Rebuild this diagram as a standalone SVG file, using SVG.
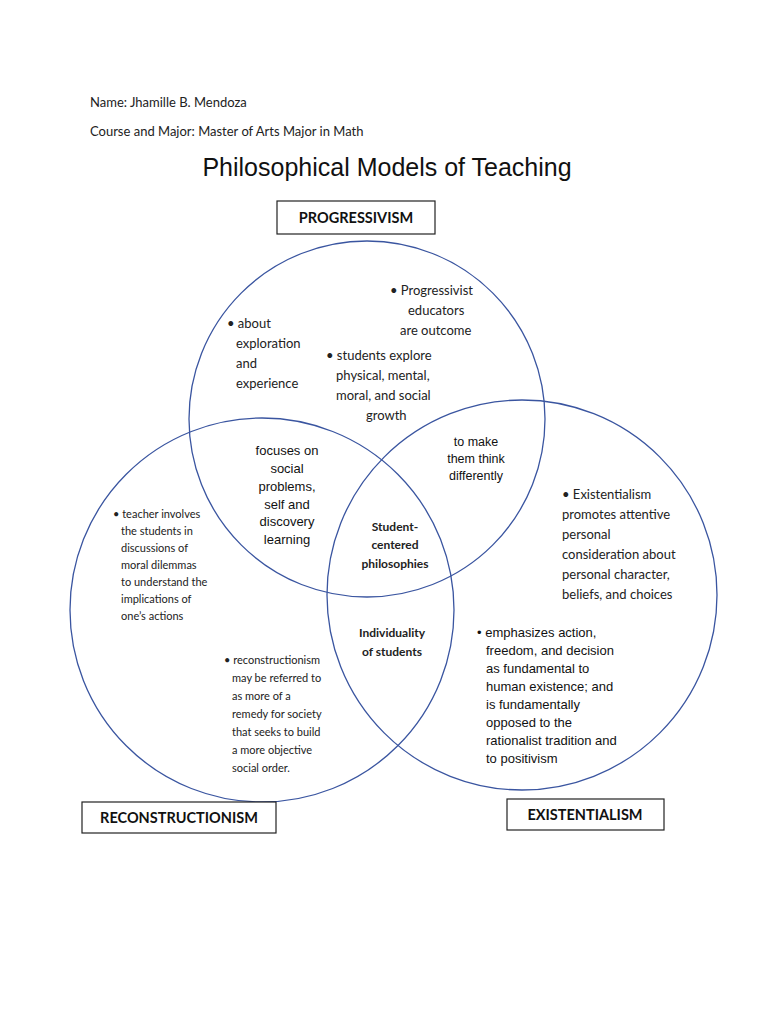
<svg xmlns="http://www.w3.org/2000/svg" width="768" height="1024" viewBox="0 0 768 1024">
<style>
.c{font-family:Lato,"Open Sans",sans-serif;fill:#222}
.a{font-family:"Liberation Sans",Arial,sans-serif;fill:#111}
.ring{fill:none;stroke:#3a55a0;stroke-width:1.3}
.box{fill:#fff;stroke:#222;stroke-width:1.2}
.lab{font-family:Lato,"Open Sans",sans-serif;font-weight:bold;font-size:14.5px;fill:#111;text-anchor:middle}
</style>
<rect width="768" height="1024" fill="#fff"/>
<text class="c" x="90" y="107" font-size="13">Name: Jhamille B. Mendoza</text>
<text class="c" x="90" y="136" font-size="13">Course and Major: Master of Arts Major in Math</text>
<text class="a" x="387" y="176" font-size="25" text-anchor="middle">Philosophical Models of Teaching</text>
<g id="circles">
<circle id="progressivism-circle" class="ring" cx="367" cy="419" r="178"/>
<circle id="reconstructionism-circle" class="ring" cx="262" cy="610" r="192"/>
<circle id="existentialism-circle" class="ring" cx="522" cy="595" r="195"/>
</g>
<g id="progressivism"><rect class="box" x="277" y="201" width="158" height="33"/><text class="lab" x="356" y="223">PROGRESSIVISM</text></g>
<g id="reconstructionism"><rect class="box" x="82" y="802" width="194" height="31"/><text class="lab" x="179" y="823">RECONSTRUCTIONISM</text></g>
<g id="existentialism"><rect class="box" x="507" y="799" width="157" height="31"/><text class="lab" x="585" y="820">EXISTENTIALISM</text></g>
<g id="texts">
<text class="c" font-size="13"><tspan x="390" y="295">• Progressivist</tspan><tspan x="408" y="315">educators</tspan><tspan x="400" y="335">are outcome</tspan></text>
<text class="c" font-size="13"><tspan x="227" y="328">• about</tspan><tspan x="236" y="348">exploration</tspan><tspan x="236" y="368">and</tspan><tspan x="236" y="388">experience</tspan></text>
<text class="c" font-size="13"><tspan x="326" y="360">• students explore</tspan><tspan x="336" y="380">physical, mental,</tspan><tspan x="336" y="400">moral, and social</tspan><tspan x="366" y="420">growth</tspan></text>
<text class="a" font-size="12.5" text-anchor="middle"><tspan x="476" y="446">to make</tspan><tspan x="476" y="463">them think</tspan><tspan x="476" y="480">differently</tspan></text>
<text class="a" font-size="13" text-anchor="middle"><tspan x="287" y="455">focuses on</tspan><tspan x="287" y="473">social</tspan><tspan x="287" y="491">problems,</tspan><tspan x="287" y="509">self and</tspan><tspan x="287" y="526">discovery</tspan><tspan x="287" y="544">learning</tspan></text>
<text class="c" font-size="12" font-weight="bold" text-anchor="middle"><tspan x="395" y="531">Student-</tspan><tspan x="395" y="549">centered</tspan><tspan x="395" y="568">philosophies</tspan></text>
<text class="c" font-size="12" font-weight="bold" text-anchor="middle"><tspan x="392" y="637">Individuality</tspan><tspan x="392" y="656">of students</tspan></text>
<text class="c" font-size="11"><tspan x="113" y="518">• teacher involves</tspan><tspan x="121" y="535">the students in</tspan><tspan x="121" y="552">discussions of</tspan><tspan x="121" y="569">moral dilemmas</tspan><tspan x="121" y="586">to understand the</tspan><tspan x="121" y="603">implications of</tspan><tspan x="121" y="620">one’s actions</tspan></text>
<text class="c" font-size="11"><tspan x="224" y="664">• reconstructionism</tspan><tspan x="232" y="682">may be referred to</tspan><tspan x="232" y="700">as more of a</tspan><tspan x="232" y="718">remedy for society</tspan><tspan x="232" y="736">that seeks to build</tspan><tspan x="232" y="754">a more objective</tspan><tspan x="232" y="772">social order.</tspan></text>
<text class="c" font-size="13"><tspan x="562" y="499">• Existentialism</tspan><tspan x="562" y="519">promotes attentive</tspan><tspan x="562" y="539">personal</tspan><tspan x="562" y="559">consideration about</tspan><tspan x="562" y="579">personal character,</tspan><tspan x="562" y="599">beliefs, and choices</tspan></text>
<text class="a" font-size="13"><tspan x="477" y="637">• emphasizes action,</tspan><tspan x="486" y="655">freedom, and decision</tspan><tspan x="486" y="673">as fundamental to</tspan><tspan x="486" y="691">human existence; and</tspan><tspan x="486" y="709">is fundamentally</tspan><tspan x="486" y="727">opposed to the</tspan><tspan x="486" y="745">rationalist tradition and</tspan><tspan x="486" y="763">to positivism</tspan></text>
</g>
</svg>
